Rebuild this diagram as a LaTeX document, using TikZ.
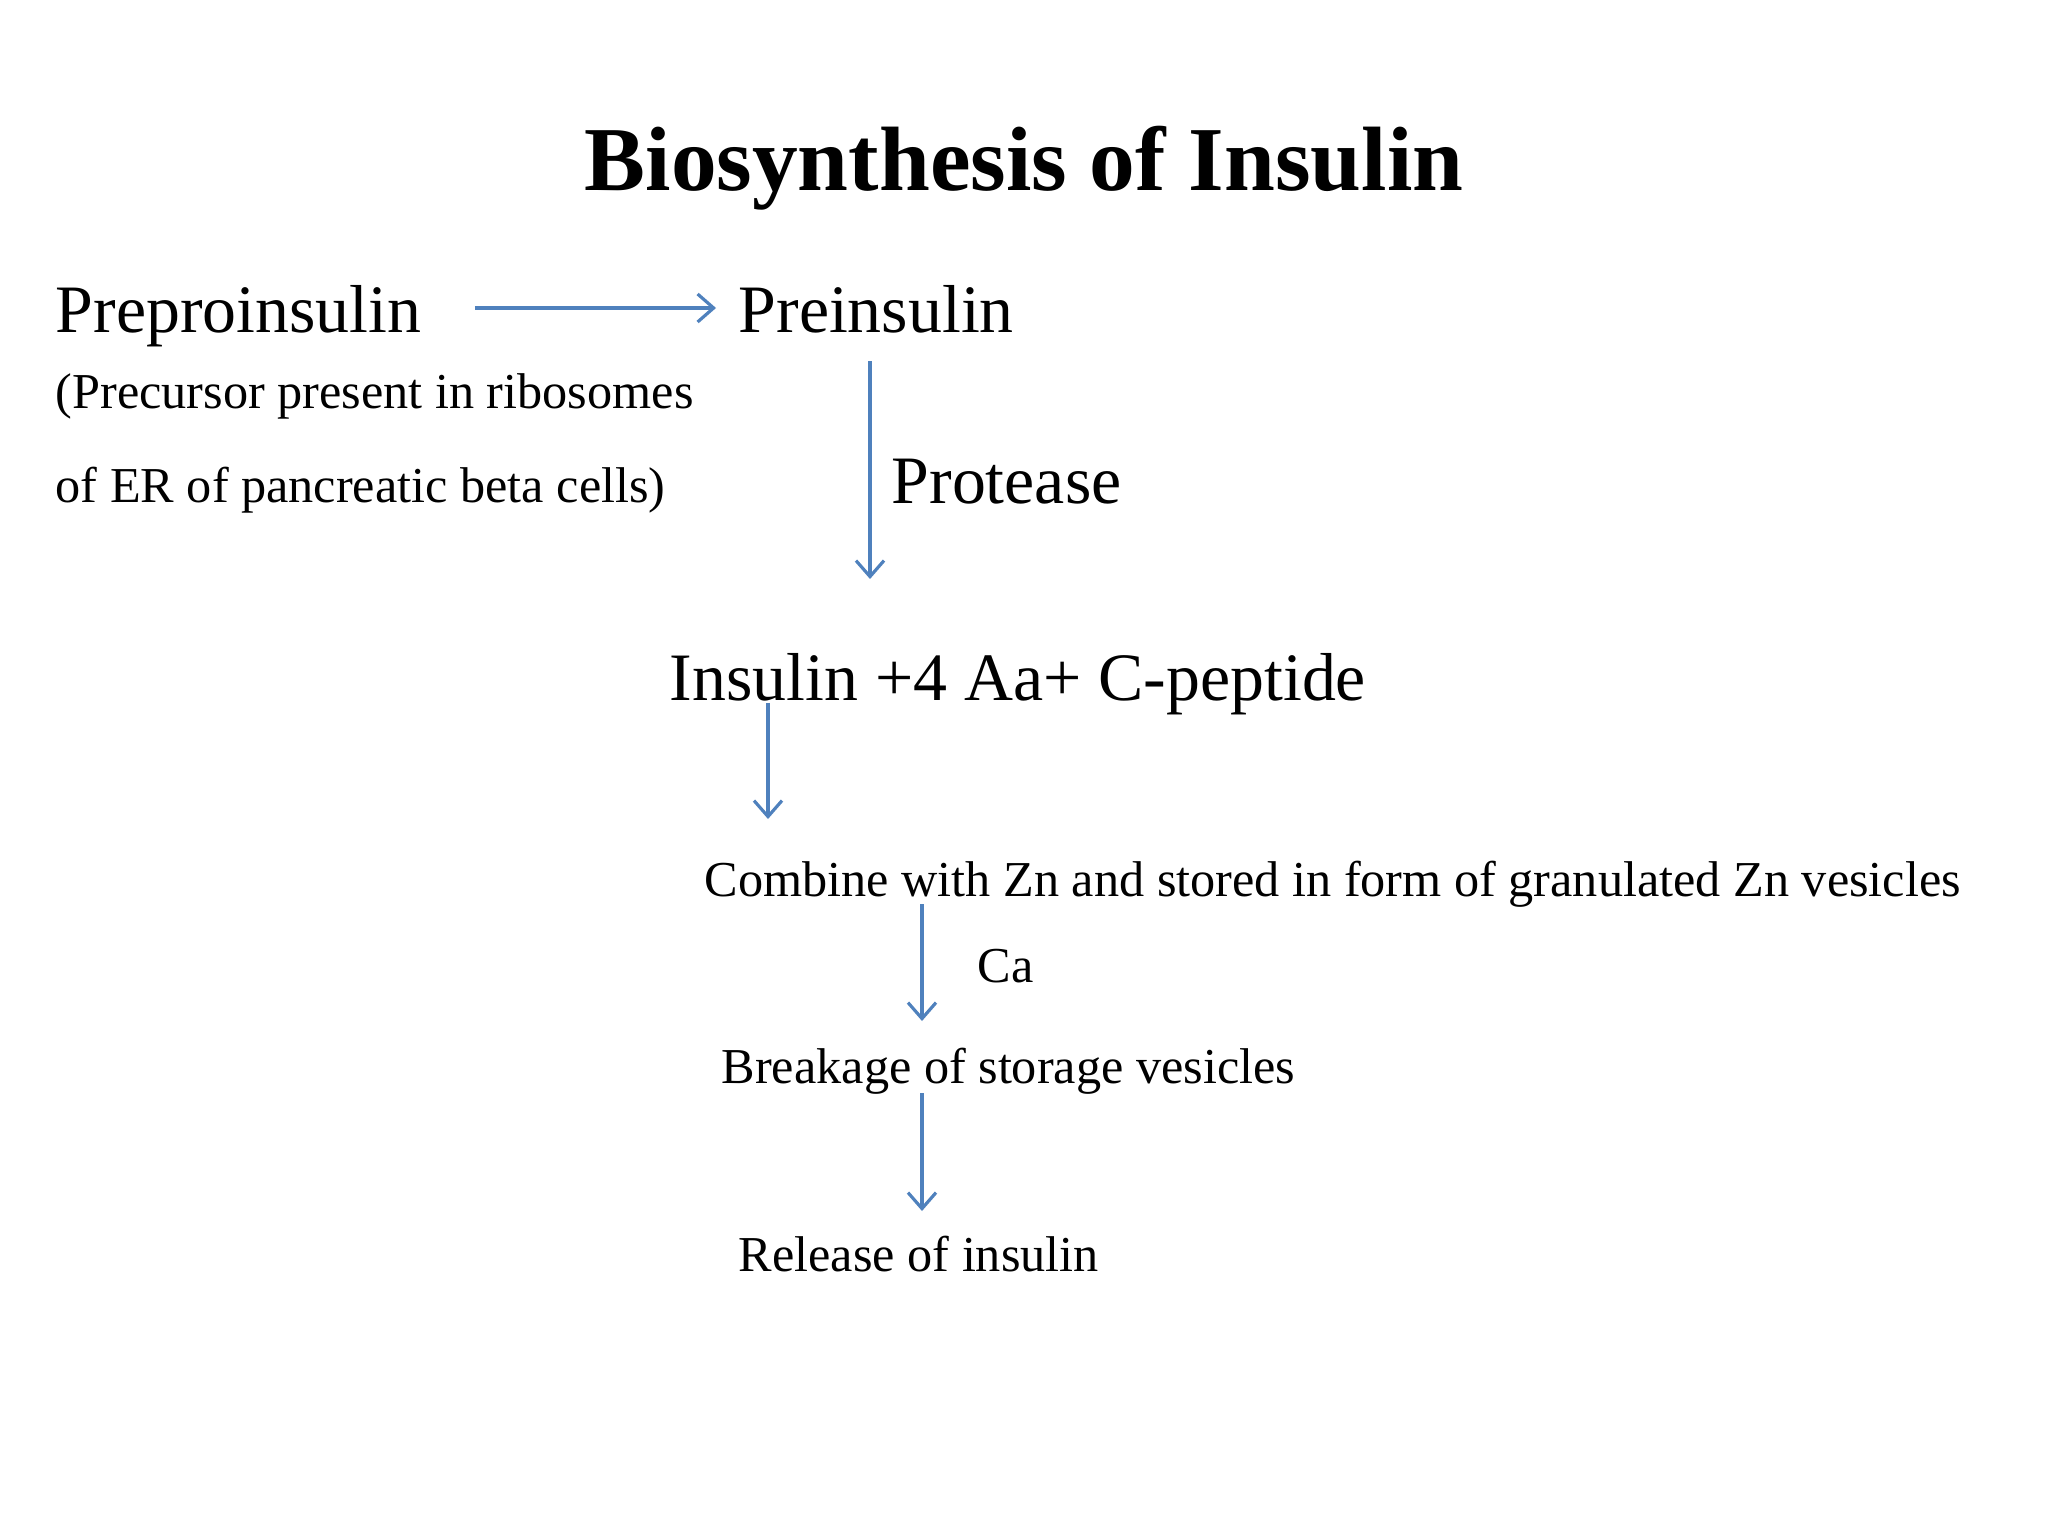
\documentclass[tikz,border=0pt]{standalone}
\usepackage{fontspec}
\setmainfont{Liberation Serif}
\usepackage{tikz}
\usetikzlibrary{arrows.meta,positioning,calc}
\usepackage{xcolor}
\definecolor{flowcol}{RGB}{79,129,189}

\begin{document}
\begin{tikzpicture}[
  stage/.style={inner sep=0pt, anchor=base west, font=\fontsize{19.3}{23}\selectfont},
  note/.style={inner sep=0pt, anchor=base west, font=\fontsize{14.3}{17}\selectfont},
  flow/.style={draw=flowcol, line width=0.9pt, -{Straight Barb[length=1.6mm,width=2.8mm]}},
  >=Stealth
]
  \path[use as bounding box, fill=white] (0,0) rectangle (20.48,-15.36);

  % Title
  \node[inner sep=0pt, anchor=base, font=\fontsize{26}{31}\selectfont\bfseries]
    (title) at (10.24,-1.91) {Biosynthesis of Insulin};

  % Precursor and first cleavage
  \node[stage] (prepro) at (0.55,-3.33) {Preproinsulin};
  \node[stage] (pre)    at (7.38,-3.33) {Preinsulin};
  \node[note]  (note1)  at (0.55,-4.09) {(Precursor present in ribosomes};
  \node[note]  (note2)  at (0.55,-5.03) {of ER of pancreatic beta cells)};
  \node[stage] (prot)   at (8.91,-5.04) {Protease};

  % Products
  \node[stage] (ins) at (6.69,-7.01) {Insulin +4 Aa+ C-peptide};
  \node[note]  (zn)  at (7.04,-8.96) {Combine with Zn and stored in form of granulated Zn vesicles};
  \node[note]  (ca)  at (9.77,-9.82) {Ca};
  \node[note]  (brk) at (7.21,-10.84) {Breakage of storage vesicles};
  \node[note]  (rel) at (7.38,-12.71) {Release of insulin};

  % Arrow ends
  \coordinate (protip) at (8.70,-5.79);
  \coordinate (instail) at ([xshift=0.99cm,yshift=-0.02cm]ins.base west);
  \coordinate (zntip) at ($(instail)+(0,-1.16)$);
  \coordinate (zntail) at ([xshift=2.18cm,yshift=-0.08cm]zn.base west);
  \coordinate (brktail) at ([yshift=-0.09cm]zntail |- brk.base);

  % Connectors
  \draw[flow] ([xshift=0.53cm,yshift=0.25cm]prepro.base east)
           -- ([xshift=-0.22cm,yshift=0.25cm]pre.base west);
  \draw[flow] (protip |- pre.south) ++(0,-0.27) -- (protip);
  \draw[flow] (instail) -- (zntip);
  \draw[flow] (zntail) -- ([yshift=0.63cm]zntail |- brk.base);
  \draw[flow] (brktail) -- ([yshift=0.60cm]brktail |- rel.base);
\end{tikzpicture}
\end{document}
